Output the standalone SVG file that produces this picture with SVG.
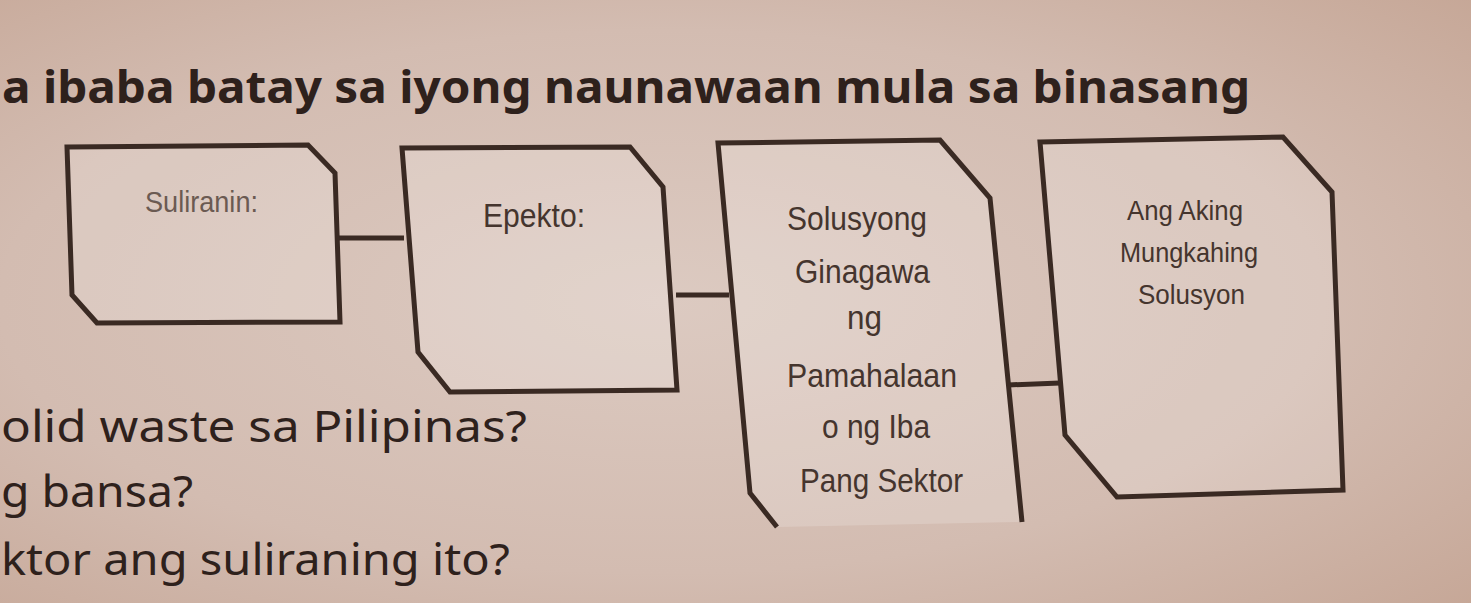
<svg xmlns="http://www.w3.org/2000/svg" width="1471" height="603" viewBox="0 0 1471 603">
  <defs>
    <radialGradient id="paper" cx="0.45" cy="0.5" r="0.75">
      <stop offset="0" stop-color="#dccac1"/>
      <stop offset="0.6" stop-color="#d3bcb1"/>
      <stop offset="1" stop-color="#c6a797"/>
    </radialGradient>
  </defs>
  <style>
    .box { fill: #ffffff; fill-opacity: 0.18; stroke: #3a2a23; stroke-width: 5; stroke-linejoin: miter; }
    .open { fill: #ffffff; fill-opacity: 0.18; stroke: #3a2a23; stroke-width: 5; stroke-linejoin: miter; }
    .conn { stroke: #3a2a23; stroke-width: 5; fill: none; }
    .lbl { font-family: "Liberation Sans Narrow", "Liberation Sans", Arial, sans-serif; fill: #45352e; }
    .head { font-family: "Noto Sans", "Open Sans", sans-serif; font-weight: bold; font-size: 44px; fill: #2e211c; }
    .body { font-family: "Noto Sans", "Open Sans", sans-serif; font-size: 44px; fill: #2e211c; }
  </style>
  <rect x="0" y="0" width="1471" height="603" fill="url(#paper)"/>

  <text class="head" x="2" y="103" textLength="1248" lengthAdjust="spacingAndGlyphs">a ibaba batay sa iyong naunawaan mula sa binasang</text>

  <g id="connectors">
    <line class="conn" x1="338" y1="238" x2="404" y2="238"/>
    <line class="conn" x1="676" y1="295" x2="729" y2="295"/>
    <line class="conn" x1="1008" y1="385" x2="1060" y2="383"/>
  </g>

  <g id="suliranin">
    <polygon class="box" points="67,147 308,145 335,173 340,322 97,323 72,295"/>
    <text class="lbl" x="145" y="212" font-size="30" style="fill:#6b5a52" textLength="113" lengthAdjust="spacingAndGlyphs">Suliranin:</text>
  </g>

  <g id="epekto">
    <polygon class="box" points="402,148 630,147 663,187 677,390 450,392 418,352"/>
    <text class="lbl" x="483" y="227" font-size="34" textLength="102" lengthAdjust="spacingAndGlyphs">Epekto:</text>
  </g>

  <g id="solusyong-ginagawa">
    <polyline class="open" points="777,527 750,493 718,143 940,140 990,198 1022,522"/>
    <text class="lbl" x="787" y="230" font-size="34" textLength="140" lengthAdjust="spacingAndGlyphs">Solusyong</text>
    <text class="lbl" x="795" y="283" font-size="34" textLength="135" lengthAdjust="spacingAndGlyphs">Ginagawa</text>
    <text class="lbl" x="847" y="329" font-size="34" textLength="35" lengthAdjust="spacingAndGlyphs">ng</text>
    <text class="lbl" x="787" y="387" font-size="34" textLength="170" lengthAdjust="spacingAndGlyphs">Pamahalaan</text>
    <text class="lbl" x="822" y="438" font-size="34" textLength="108" lengthAdjust="spacingAndGlyphs">o ng Iba</text>
    <text class="lbl" x="800" y="492" font-size="34" textLength="163" lengthAdjust="spacingAndGlyphs">Pang Sektor</text>
  </g>

  <g id="mungkahing-solusyon">
    <polygon class="box" points="1040,142 1283,137 1332,192 1343,490 1117,497 1065,435"/>
    <text class="lbl" x="1127" y="220" font-size="28" textLength="116" lengthAdjust="spacingAndGlyphs">Ang Aking</text>
    <text class="lbl" x="1120" y="262" font-size="28" textLength="138" lengthAdjust="spacingAndGlyphs">Mungkahing</text>
    <text class="lbl" x="1138" y="304" font-size="28" textLength="107" lengthAdjust="spacingAndGlyphs">Solusyon</text>
  </g>

  <text class="body" x="1" y="442" textLength="526" lengthAdjust="spacingAndGlyphs">olid waste sa Pilipinas?</text>
  <text class="body" x="1" y="507" textLength="192" lengthAdjust="spacingAndGlyphs">g bansa?</text>
  <text class="body" x="1" y="575" textLength="509" lengthAdjust="spacingAndGlyphs">ktor ang suliraning ito?</text>
</svg>
